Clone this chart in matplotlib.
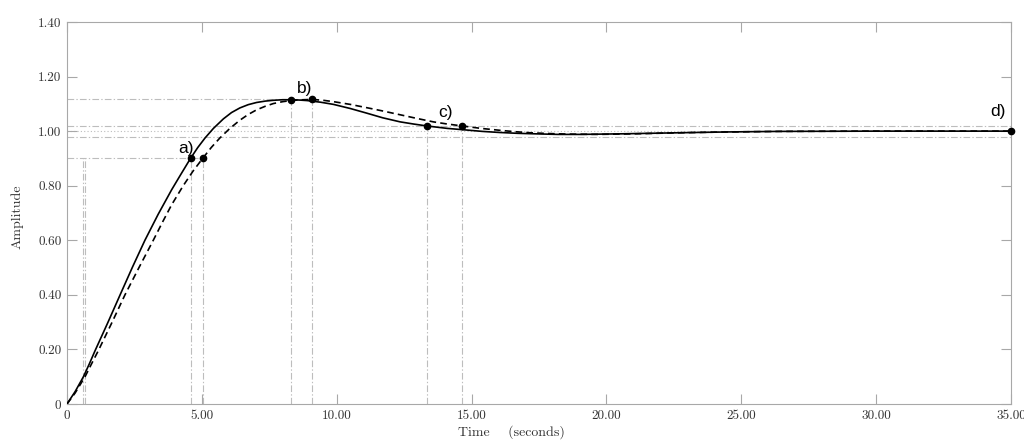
import matplotlib
matplotlib.use("Agg")
import matplotlib.pyplot as plt
from matplotlib.ticker import FuncFormatter

# step response
t_solid = [0, 0.30, 0.61, 0.82, 1.04, 1.50, 1.97, 2.43, 2.89, 3.38, 3.88, 4.20, 4.58, 4.85,
           5.12, 5.43, 5.80, 6.10, 6.41, 6.72, 7.03, 7.35, 7.65, 8.00, 8.29, 8.60, 8.90,
           9.40, 9.88, 10.50, 11.11, 11.70, 12.35, 12.85, 13.34, 14.10, 14.82, 15.40,
           16.05, 16.70, 17.40, 18.20, 19.00, 20.50, 22.70, 24.50, 26.40, 30.00, 35.00]
y_solid = [0, 0.045, 0.10, 0.145, 0.195, 0.295, 0.40, 0.502, 0.60, 0.695, 0.785, 0.838, 0.90,
           0.94, 0.975, 1.010, 1.045, 1.068, 1.085, 1.097, 1.105, 1.110, 1.113, 1.115, 1.115,
           1.114, 1.112, 1.106, 1.098, 1.083, 1.066, 1.049, 1.034, 1.026, 1.019, 1.010,
           1.004, 0.999, 0.995, 0.992, 0.990, 0.988, 0.988, 0.990, 0.994, 0.997, 0.999,
           1.000, 1.000]

t_dash = [0, 0.30, 0.67, 0.90, 1.16, 1.65, 2.15, 2.67, 3.20, 3.55, 3.88, 4.31, 4.67, 5.03,
          5.35, 5.67, 6.04, 6.41, 6.72, 7.03, 7.35, 7.65, 8.00, 8.39, 8.75, 9.10, 9.50,
          9.88, 10.50, 11.11, 11.70, 12.35, 12.95, 13.58, 14.10, 14.66, 15.35, 16.05,
          16.60, 17.17, 17.90, 18.65, 19.64, 21.00, 22.73, 24.50, 26.40, 30.00, 35.00]
y_dash = [0, 0.04, 0.10, 0.145, 0.195, 0.295, 0.40, 0.50, 0.60, 0.668, 0.730, 0.800, 0.853,
          0.90, 0.94, 0.975, 1.010, 1.040, 1.061, 1.078, 1.091, 1.101, 1.108, 1.113, 1.115,
          1.116, 1.113, 1.108, 1.098, 1.086, 1.074, 1.060, 1.047, 1.034, 1.026, 1.019,
          1.010, 1.003, 0.998, 0.994, 0.991, 0.989, 0.988, 0.990, 0.994, 0.997, 0.999,
          1.000, 1.000]

# stepinfo values (solid, dashed)
rise10_t = [0.59, 0.67]
rise90_t = [4.58, 5.03]
peak_t = [8.29, 9.10]
peak_y = [1.115, 1.116]
settle_t = [13.36, 14.66]
settle_y = [1.02, 1.02]
final_t = 35.0
final_y = 1.0

labels = ["a)", "b)", "c)", "d)"]
label_x = [4.40, 8.82, 14.05, 34.50]
label_y = [0.937, 1.155, 1.067, 1.071]

xticks = [0, 5, 10, 15, 20, 25, 30, 35]
yticks = [0, 0.2, 0.4, 0.6, 0.8, 1.0, 1.2, 1.4]

fig = plt.figure(figsize=(10.24, 4.44), dpi=100)
ax = fig.add_axes([0.0654, 0.0901, 0.9219, 0.8604])

g = "#bdbdbd"
dd = (0, (6, 2, 1.2, 2))
kw = dict(color=g, lw=0.8, ls=dd, zorder=1)

# settling band and final value
ax.axhline(1.02, **kw)
ax.axhline(0.98, **kw)
ax.axhline(1.00, color=g, lw=0.8, ls=(0, (1, 2)), zorder=1)

# rise time box
ax.plot([0, rise90_t[1]], [0.9, 0.9], **kw)
for x in rise10_t + rise90_t:
    ax.plot([x, x], [0, 0.9], **kw)
# peak
ax.plot([0, peak_t[1]], [max(peak_y), max(peak_y)], **kw)
for x, y in zip(peak_t, peak_y):
    ax.plot([x, x], [0, y], **kw)
# settling
for x, y in zip(settle_t, settle_y):
    ax.plot([x, x], [0, y], **kw)

ax.plot(t_solid, y_solid, color="black", lw=1.2, zorder=3)
ax.plot(t_dash, y_dash, color="black", lw=1.2, dashes=(4, 2.5), zorder=3)

mx = rise90_t + peak_t + settle_t + [final_t]
my = [0.9, 0.9] + peak_y + settle_y + [final_y]
ax.plot(mx, my, "o", color="black", ms=4.5, zorder=4, clip_on=False)

for s, x, y in zip(labels, label_x, label_y):
    ax.text(x, y, s, ha="center", va="center", fontsize=12.5, family="Liberation Sans")

ax.set_xlim(0, 35)
ax.set_ylim(0, 1.4)
ax.set_xticks(xticks)
ax.set_yticks(yticks)
fmt = FuncFormatter(lambda v, p: "0" if v == 0 else "%.2f" % v)
ax.xaxis.set_major_formatter(fmt)
ax.yaxis.set_major_formatter(fmt)
ax.tick_params(direction="in", length=7, width=0.8, color="#a8a8a8", top=True, right=True,
               labelsize=9.5, labelcolor="#333333", pad=4)
for lab in ax.get_xticklabels() + ax.get_yticklabels():
    lab.set_family("cmr10")
for sp in ax.spines.values():
    sp.set_color("#a8a8a8")
    sp.set_linewidth(0.8)

ax.set_xlabel("Time    (seconds)", family="cmr10", fontsize=10, color="#333333")
ax.xaxis.set_label_coords(0.471, -0.055)
ax.set_ylabel("Amplitude", family="cmr10", fontsize=10, color="#333333")
ax.yaxis.set_label_coords(-0.046, 0.49)

fig.savefig("out.png", dpi=100)
